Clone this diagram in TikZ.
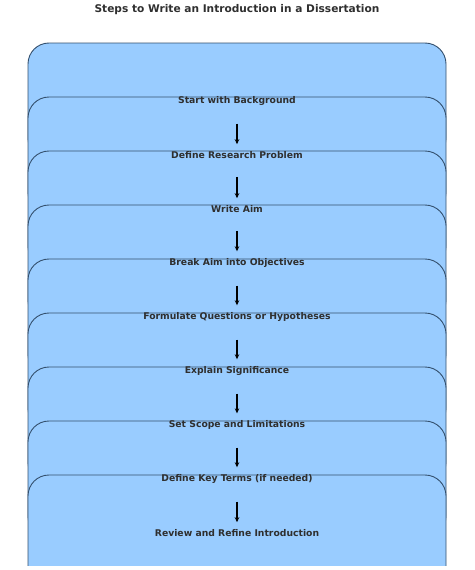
\documentclass[tikz,border=0pt]{standalone}
\usepackage{fontspec}
\setmainfont{DejaVu Sans}
\usetikzlibrary{arrows.meta}
\definecolor{boxfill}{HTML}{99CCFF}
\definecolor{boxedge}{HTML}{34506E}
\definecolor{txt}{HTML}{2F2F2F}
\tikzset{
  stepbox/.style={draw=boxedge, line width=0.9pt, fill=boxfill, rounded corners=21pt,
    minimum width=418pt, minimum height=116pt, inner sep=0pt, anchor=center},
  steplabel/.style={text=txt, font=\fontsize{9.25pt}{10.5pt}\selectfont\bfseries, inner sep=0pt, anchor=center},
  steparrow/.style={draw=black, line width=1.1pt, -{Stealth[length=5pt,width=4.5pt]}, shorten <=18pt, shorten >=7pt}
}
\begin{document}
\begin{tikzpicture}[x=1pt,y=-1pt]
\useasboundingbox (0,0) rectangle (474,570);
\node[text=txt, font=\fontsize{10.6pt}{12pt}\selectfont\bfseries, inner sep=0pt] (title) at (237,9.5) {Steps to Write an Introduction in a Dissertation};
\begin{scope}
\clip (0,0) rectangle (474,565);
\foreach \i in {0,...,8} {
  \node[stepbox] (b\i) at (237,{101+54*\i}) {};
}
\end{scope}
\node[steplabel] (t0) at (237,101) {Start with Background};
\node[steplabel] (t1) at (237,155) {Define Research Problem};
\node[steplabel] (t2) at (237,209) {Write Aim};
\node[steplabel] (t3) at (237,263) {Break Aim into Objectives};
\node[steplabel] (t4) at (237,317) {Formulate Questions or Hypotheses};
\node[steplabel] (t5) at (237,371) {Explain Significance};
\node[steplabel] (t6) at (237,425) {Set Scope and Limitations};
\node[steplabel] (t7) at (237,479) {Define Key Terms (if needed)};
\node[steplabel] (t8) at (237,533) {Review and Refine Introduction};
\foreach \i [evaluate=\i as \j using int(\i+1)] in {0,...,7} {
  \draw[steparrow] (t\i.south) -- (t\j.north);
}
\end{tikzpicture}
\end{document}
